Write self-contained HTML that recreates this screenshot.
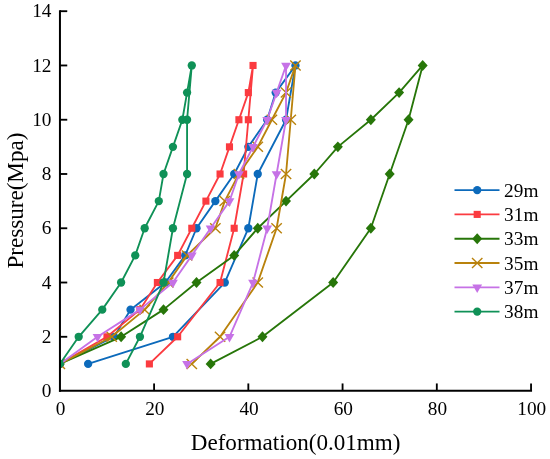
<!DOCTYPE html>
<html><head><meta charset="utf-8"><title>Pressure–Deformation</title>
<style>
html,body{margin:0;padding:0;background:#fff}
body{width:550px;height:459px;overflow:hidden}
svg text{font-family:"Liberation Serif","Times New Roman",serif;fill:#000}
.t{font-size:19.3px}
.l{font-size:23.1px}
</style></head><body>
<svg width="550" height="459" viewBox="0 0 550 459" style="display:block">
<rect width="550" height="459" fill="#fff"/>
<defs><clipPath id="pc"><rect x="59.95" y="11.20" width="481.20" height="379.85"/></clipPath></defs>
<g clip-path="url(#pc)">
<polyline points="59.85,363.92 114.04,336.79 130.53,309.65 165.40,282.52 185.19,255.39 196.50,228.26 215.35,201.12 234.19,173.99 248.33,146.86 267.18,119.73 275.66,92.60 295.45,65.46 286.03,119.73 257.75,173.99 248.33,228.26 224.77,282.52 172.94,336.79 88.12,363.92" fill="none" stroke="#0C6ABB" stroke-width="1.85" stroke-linejoin="round"/>
<circle cx="59.85" cy="363.92" r="4.15" fill="#0C6ABB"/>
<circle cx="114.04" cy="336.79" r="4.15" fill="#0C6ABB"/>
<circle cx="130.53" cy="309.65" r="4.15" fill="#0C6ABB"/>
<circle cx="165.40" cy="282.52" r="4.15" fill="#0C6ABB"/>
<circle cx="185.19" cy="255.39" r="4.15" fill="#0C6ABB"/>
<circle cx="196.50" cy="228.26" r="4.15" fill="#0C6ABB"/>
<circle cx="215.35" cy="201.12" r="4.15" fill="#0C6ABB"/>
<circle cx="234.19" cy="173.99" r="4.15" fill="#0C6ABB"/>
<circle cx="248.33" cy="146.86" r="4.15" fill="#0C6ABB"/>
<circle cx="267.18" cy="119.73" r="4.15" fill="#0C6ABB"/>
<circle cx="275.66" cy="92.60" r="4.15" fill="#0C6ABB"/>
<circle cx="295.45" cy="65.46" r="4.15" fill="#0C6ABB"/>
<circle cx="286.03" cy="119.73" r="4.15" fill="#0C6ABB"/>
<circle cx="257.75" cy="173.99" r="4.15" fill="#0C6ABB"/>
<circle cx="248.33" cy="228.26" r="4.15" fill="#0C6ABB"/>
<circle cx="224.77" cy="282.52" r="4.15" fill="#0C6ABB"/>
<circle cx="172.94" cy="336.79" r="4.15" fill="#0C6ABB"/>
<circle cx="88.12" cy="363.92" r="4.15" fill="#0C6ABB"/>
<polyline points="59.85,363.92 106.97,336.79 139.95,309.65 157.39,282.52 177.65,255.39 191.79,228.26 205.92,201.12 220.06,173.99 229.48,146.86 238.91,119.73 248.33,92.60 253.04,65.46 248.33,119.73 243.62,173.99 234.19,228.26 220.06,282.52 177.65,336.79 149.38,363.92" fill="none" stroke="#FB3B40" stroke-width="1.85" stroke-linejoin="round"/>
<rect x="56.30" y="360.37" width="7.1" height="7.1" fill="#FB3B40"/>
<rect x="103.42" y="333.24" width="7.1" height="7.1" fill="#FB3B40"/>
<rect x="136.40" y="306.10" width="7.1" height="7.1" fill="#FB3B40"/>
<rect x="153.84" y="278.97" width="7.1" height="7.1" fill="#FB3B40"/>
<rect x="174.10" y="251.84" width="7.1" height="7.1" fill="#FB3B40"/>
<rect x="188.24" y="224.71" width="7.1" height="7.1" fill="#FB3B40"/>
<rect x="202.37" y="197.57" width="7.1" height="7.1" fill="#FB3B40"/>
<rect x="216.51" y="170.44" width="7.1" height="7.1" fill="#FB3B40"/>
<rect x="225.93" y="143.31" width="7.1" height="7.1" fill="#FB3B40"/>
<rect x="235.36" y="116.18" width="7.1" height="7.1" fill="#FB3B40"/>
<rect x="244.78" y="89.05" width="7.1" height="7.1" fill="#FB3B40"/>
<rect x="249.49" y="61.91" width="7.1" height="7.1" fill="#FB3B40"/>
<rect x="244.78" y="116.18" width="7.1" height="7.1" fill="#FB3B40"/>
<rect x="240.07" y="170.44" width="7.1" height="7.1" fill="#FB3B40"/>
<rect x="230.64" y="224.71" width="7.1" height="7.1" fill="#FB3B40"/>
<rect x="216.51" y="278.97" width="7.1" height="7.1" fill="#FB3B40"/>
<rect x="174.10" y="333.24" width="7.1" height="7.1" fill="#FB3B40"/>
<rect x="145.83" y="360.37" width="7.1" height="7.1" fill="#FB3B40"/>
<polyline points="59.85,363.92 121.11,336.79 163.51,309.65 196.50,282.52 234.19,255.39 257.75,228.26 286.03,201.12 314.30,173.99 337.86,146.86 370.84,119.73 399.11,92.60 422.67,65.46 408.54,119.73 389.69,173.99 370.84,228.26 333.15,282.52 262.47,336.79 210.63,363.92" fill="none" stroke="#277609" stroke-width="1.85" stroke-linejoin="round"/>
<polygon points="54.85,363.92 59.85,358.47 64.85,363.92 59.85,369.37" fill="#277609"/>
<polygon points="116.11,336.79 121.11,331.34 126.11,336.79 121.11,342.24" fill="#277609"/>
<polygon points="158.51,309.65 163.51,304.20 168.51,309.65 163.51,315.10" fill="#277609"/>
<polygon points="191.50,282.52 196.50,277.07 201.50,282.52 196.50,287.97" fill="#277609"/>
<polygon points="229.19,255.39 234.19,249.94 239.19,255.39 234.19,260.84" fill="#277609"/>
<polygon points="252.75,228.26 257.75,222.81 262.75,228.26 257.75,233.71" fill="#277609"/>
<polygon points="281.03,201.12 286.03,195.68 291.03,201.12 286.03,206.57" fill="#277609"/>
<polygon points="309.30,173.99 314.30,168.54 319.30,173.99 314.30,179.44" fill="#277609"/>
<polygon points="332.86,146.86 337.86,141.41 342.86,146.86 337.86,152.31" fill="#277609"/>
<polygon points="365.84,119.73 370.84,114.28 375.84,119.73 370.84,125.18" fill="#277609"/>
<polygon points="394.11,92.60 399.11,87.15 404.11,92.60 399.11,98.05" fill="#277609"/>
<polygon points="417.67,65.46 422.67,60.01 427.67,65.46 422.67,70.91" fill="#277609"/>
<polygon points="403.54,119.73 408.54,114.28 413.54,119.73 408.54,125.18" fill="#277609"/>
<polygon points="384.69,173.99 389.69,168.54 394.69,173.99 389.69,179.44" fill="#277609"/>
<polygon points="365.84,228.26 370.84,222.81 375.84,228.26 370.84,233.71" fill="#277609"/>
<polygon points="328.15,282.52 333.15,277.07 338.15,282.52 333.15,287.97" fill="#277609"/>
<polygon points="257.47,336.79 262.47,331.34 267.47,336.79 262.47,342.24" fill="#277609"/>
<polygon points="205.63,363.92 210.63,358.47 215.63,363.92 210.63,369.37" fill="#277609"/>
<polyline points="59.85,363.92 111.68,336.79 144.67,309.65 168.23,282.52 187.07,255.39 215.35,228.26 224.77,201.12 238.91,173.99 257.75,146.86 271.89,119.73 286.03,92.60 295.45,65.46 290.74,119.73 286.03,173.99 276.60,228.26 257.75,282.52 220.06,336.79 191.79,363.92" fill="none" stroke="#B9820C" stroke-width="1.85" stroke-linejoin="round"/>
<path d="M54.65 358.92L65.05 368.92M54.65 368.92L65.05 358.92" stroke="#B9820C" stroke-width="1.4" fill="none"/>
<path d="M106.48 331.79L116.88 341.79M106.48 341.79L116.88 331.79" stroke="#B9820C" stroke-width="1.4" fill="none"/>
<path d="M139.47 304.65L149.87 314.65M139.47 314.65L149.87 304.65" stroke="#B9820C" stroke-width="1.4" fill="none"/>
<path d="M163.03 277.52L173.43 287.52M163.03 287.52L173.43 277.52" stroke="#B9820C" stroke-width="1.4" fill="none"/>
<path d="M181.87 250.39L192.27 260.39M181.87 260.39L192.27 250.39" stroke="#B9820C" stroke-width="1.4" fill="none"/>
<path d="M210.15 223.26L220.55 233.26M210.15 233.26L220.55 223.26" stroke="#B9820C" stroke-width="1.4" fill="none"/>
<path d="M219.57 196.12L229.97 206.12M219.57 206.12L229.97 196.12" stroke="#B9820C" stroke-width="1.4" fill="none"/>
<path d="M233.71 168.99L244.11 178.99M233.71 178.99L244.11 168.99" stroke="#B9820C" stroke-width="1.4" fill="none"/>
<path d="M252.55 141.86L262.95 151.86M252.55 151.86L262.95 141.86" stroke="#B9820C" stroke-width="1.4" fill="none"/>
<path d="M266.69 114.73L277.09 124.73M266.69 124.73L277.09 114.73" stroke="#B9820C" stroke-width="1.4" fill="none"/>
<path d="M280.83 87.60L291.23 97.60M280.83 97.60L291.23 87.60" stroke="#B9820C" stroke-width="1.4" fill="none"/>
<path d="M290.25 60.46L300.65 70.46M290.25 70.46L300.65 60.46" stroke="#B9820C" stroke-width="1.4" fill="none"/>
<path d="M285.54 114.73L295.94 124.73M285.54 124.73L295.94 114.73" stroke="#B9820C" stroke-width="1.4" fill="none"/>
<path d="M280.83 168.99L291.23 178.99M280.83 178.99L291.23 168.99" stroke="#B9820C" stroke-width="1.4" fill="none"/>
<path d="M271.40 223.26L281.80 233.26M271.40 233.26L281.80 223.26" stroke="#B9820C" stroke-width="1.4" fill="none"/>
<path d="M252.55 277.52L262.95 287.52M252.55 287.52L262.95 277.52" stroke="#B9820C" stroke-width="1.4" fill="none"/>
<path d="M214.86 331.79L225.26 341.79M214.86 341.79L225.26 331.79" stroke="#B9820C" stroke-width="1.4" fill="none"/>
<path d="M186.59 358.92L196.99 368.92M186.59 368.92L196.99 358.92" stroke="#B9820C" stroke-width="1.4" fill="none"/>
<polyline points="59.85,363.92 97.55,336.79 139.95,309.65 172.94,282.52 191.79,255.39 210.63,228.26 229.48,201.12 238.91,173.99 253.04,146.86 267.18,119.73 276.60,92.60 286.03,65.46 286.03,119.73 276.60,173.99 267.18,228.26 253.04,282.52 229.48,336.79 187.07,363.92" fill="none" stroke="#C672E6" stroke-width="1.85" stroke-linejoin="round"/>
<polygon points="54.95,361.08 64.75,361.08 59.85,369.58" fill="#C672E6"/>
<polygon points="92.65,333.95 102.45,333.95 97.55,342.45" fill="#C672E6"/>
<polygon points="135.05,306.82 144.85,306.82 139.95,315.32" fill="#C672E6"/>
<polygon points="168.04,279.69 177.84,279.69 172.94,288.19" fill="#C672E6"/>
<polygon points="186.89,252.56 196.69,252.56 191.79,261.06" fill="#C672E6"/>
<polygon points="205.73,225.42 215.53,225.42 210.63,233.92" fill="#C672E6"/>
<polygon points="224.58,198.29 234.38,198.29 229.48,206.79" fill="#C672E6"/>
<polygon points="234.01,171.16 243.81,171.16 238.91,179.66" fill="#C672E6"/>
<polygon points="248.14,144.03 257.94,144.03 253.04,152.53" fill="#C672E6"/>
<polygon points="262.28,116.90 272.08,116.90 267.18,125.40" fill="#C672E6"/>
<polygon points="271.70,89.76 281.50,89.76 276.60,98.26" fill="#C672E6"/>
<polygon points="281.13,62.63 290.93,62.63 286.03,71.13" fill="#C672E6"/>
<polygon points="281.13,116.90 290.93,116.90 286.03,125.40" fill="#C672E6"/>
<polygon points="271.70,171.16 281.50,171.16 276.60,179.66" fill="#C672E6"/>
<polygon points="262.28,225.42 272.08,225.42 267.18,233.92" fill="#C672E6"/>
<polygon points="248.14,279.69 257.94,279.69 253.04,288.19" fill="#C672E6"/>
<polygon points="224.58,333.95 234.38,333.95 229.48,342.45" fill="#C672E6"/>
<polygon points="182.17,361.08 191.97,361.08 187.07,369.58" fill="#C672E6"/>
<polyline points="59.85,363.92 78.70,336.79 102.26,309.65 121.11,282.52 135.24,255.39 144.67,228.26 158.80,201.12 163.51,173.99 172.94,146.86 182.36,119.73 187.07,92.60 191.79,65.46 187.07,119.73 187.07,173.99 172.94,228.26 163.51,282.52 139.95,336.79 125.82,363.92" fill="none" stroke="#0F9157" stroke-width="1.85" stroke-linejoin="round"/>
<circle cx="59.85" cy="363.92" r="4.15" fill="#0F9157"/>
<circle cx="78.70" cy="336.79" r="4.15" fill="#0F9157"/>
<circle cx="102.26" cy="309.65" r="4.15" fill="#0F9157"/>
<circle cx="121.11" cy="282.52" r="4.15" fill="#0F9157"/>
<circle cx="135.24" cy="255.39" r="4.15" fill="#0F9157"/>
<circle cx="144.67" cy="228.26" r="4.15" fill="#0F9157"/>
<circle cx="158.80" cy="201.12" r="4.15" fill="#0F9157"/>
<circle cx="163.51" cy="173.99" r="4.15" fill="#0F9157"/>
<circle cx="172.94" cy="146.86" r="4.15" fill="#0F9157"/>
<circle cx="182.36" cy="119.73" r="4.15" fill="#0F9157"/>
<circle cx="187.07" cy="92.60" r="4.15" fill="#0F9157"/>
<circle cx="191.79" cy="65.46" r="4.15" fill="#0F9157"/>
<circle cx="187.07" cy="119.73" r="4.15" fill="#0F9157"/>
<circle cx="187.07" cy="173.99" r="4.15" fill="#0F9157"/>
<circle cx="172.94" cy="228.26" r="4.15" fill="#0F9157"/>
<circle cx="163.51" cy="282.52" r="4.15" fill="#0F9157"/>
<circle cx="139.95" cy="336.79" r="4.15" fill="#0F9157"/>
<circle cx="125.82" cy="363.92" r="4.15" fill="#0F9157"/>
</g>
<path d="M59.95 10.20V391.80" stroke="#000" stroke-width="2" fill="none"/>
<path d="M58.95 390.75H532.05" stroke="#000" stroke-width="2" fill="none"/>
<text x="60.55" y="414.6" text-anchor="middle" class="t">0</text>
<path d="M154.09 390.75V383.45" stroke="#000" stroke-width="1.85" fill="none"/>
<text x="154.79" y="414.6" text-anchor="middle" class="t">20</text>
<path d="M248.33 390.75V383.45" stroke="#000" stroke-width="1.85" fill="none"/>
<text x="249.03" y="414.6" text-anchor="middle" class="t">40</text>
<path d="M342.57 390.75V383.45" stroke="#000" stroke-width="1.85" fill="none"/>
<text x="343.27" y="414.6" text-anchor="middle" class="t">60</text>
<path d="M436.81 390.75V383.45" stroke="#000" stroke-width="1.85" fill="none"/>
<text x="437.51" y="414.6" text-anchor="middle" class="t">80</text>
<path d="M531.05 390.75V383.45" stroke="#000" stroke-width="1.85" fill="none"/>
<text x="531.75" y="414.6" text-anchor="middle" class="t">100</text>
<text x="51.5" y="397.15" text-anchor="end" class="t">0</text>
<path d="M59.95 336.79H67.25" stroke="#000" stroke-width="1.85" fill="none"/>
<text x="51.5" y="342.89" text-anchor="end" class="t">2</text>
<path d="M59.95 282.52H67.25" stroke="#000" stroke-width="1.85" fill="none"/>
<text x="51.5" y="288.62" text-anchor="end" class="t">4</text>
<path d="M59.95 228.26H67.25" stroke="#000" stroke-width="1.85" fill="none"/>
<text x="51.5" y="234.36" text-anchor="end" class="t">6</text>
<path d="M59.95 173.99H67.25" stroke="#000" stroke-width="1.85" fill="none"/>
<text x="51.5" y="180.09" text-anchor="end" class="t">8</text>
<path d="M59.95 119.73H67.25" stroke="#000" stroke-width="1.85" fill="none"/>
<text x="51.5" y="125.83" text-anchor="end" class="t">10</text>
<path d="M59.95 65.46H67.25" stroke="#000" stroke-width="1.85" fill="none"/>
<text x="51.5" y="71.56" text-anchor="end" class="t">12</text>
<path d="M59.95 11.20H67.25" stroke="#000" stroke-width="1.85" fill="none"/>
<text x="51.5" y="17.30" text-anchor="end" class="t">14</text>
<text x="295.6" y="450.4" text-anchor="middle" class="l">Deformation(0.01mm)</text>
<text transform="translate(22.7 200.6) rotate(-90)" text-anchor="middle" class="l">Pressure(Mpa)</text>
<path d="M454.5 190.10H499.5" stroke="#0C6ABB" stroke-width="1.85" fill="none"/>
<circle cx="477.20" cy="190.10" r="4.15" fill="#0C6ABB"/>
<text x="504.1" y="196.80" class="t">29m</text>
<path d="M454.5 214.40H499.5" stroke="#FB3B40" stroke-width="1.85" fill="none"/>
<rect x="473.65" y="210.85" width="7.1" height="7.1" fill="#FB3B40"/>
<text x="504.1" y="221.10" class="t">31m</text>
<path d="M454.5 238.70H499.5" stroke="#277609" stroke-width="1.85" fill="none"/>
<polygon points="472.20,238.70 477.20,233.25 482.20,238.70 477.20,244.15" fill="#277609"/>
<text x="504.1" y="245.40" class="t">33m</text>
<path d="M454.5 263.00H499.5" stroke="#B9820C" stroke-width="1.85" fill="none"/>
<path d="M472.00 258.00L482.40 268.00M472.00 268.00L482.40 258.00" stroke="#B9820C" stroke-width="1.4" fill="none"/>
<text x="504.1" y="269.70" class="t">35m</text>
<path d="M454.5 287.30H499.5" stroke="#C672E6" stroke-width="1.85" fill="none"/>
<polygon points="472.30,284.47 482.10,284.47 477.20,292.97" fill="#C672E6"/>
<text x="504.1" y="294.00" class="t">37m</text>
<path d="M454.5 311.60H499.5" stroke="#0F9157" stroke-width="1.85" fill="none"/>
<circle cx="477.20" cy="311.60" r="4.15" fill="#0F9157"/>
<text x="504.1" y="318.30" class="t">38m</text>
</svg>
</body></html>
